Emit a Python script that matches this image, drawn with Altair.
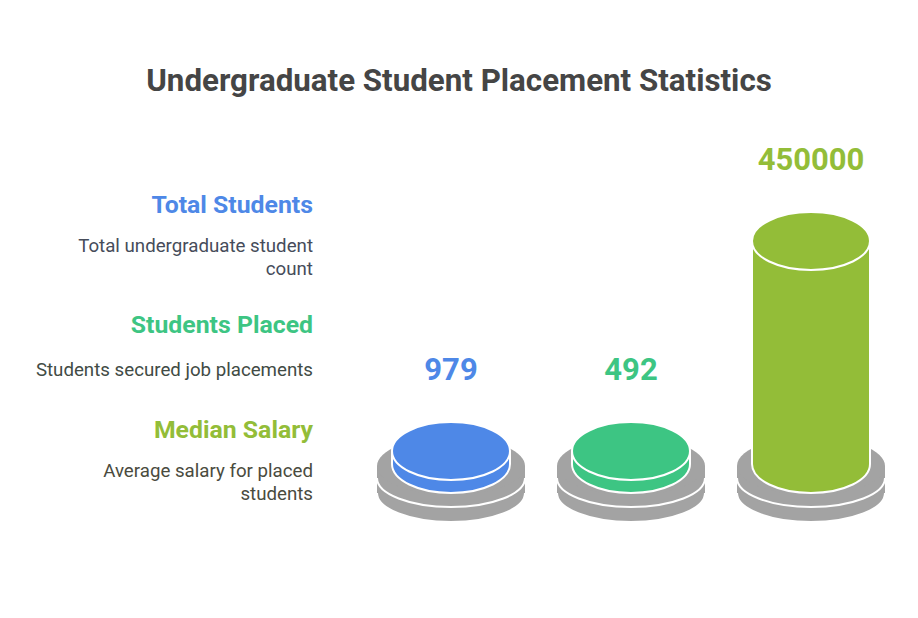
import altair as alt
import pandas as pd

# ---------------- data ----------------
title = "Undergraduate Student Placement Statistics"
categories = ["Total Students", "Students Placed", "Median Salary"]
descriptions = [
    ["Total undergraduate student", "count"],
    ["Students secured job placements"],
    ["Average salary for placed", "students"],
]
values = [979, 492, 450000]
value_labels = ["979", "492", "450000"]
colors = ["#4e88e7", "#3dc583", "#93bd38"]
desc_colors = ["#464c5a", "#414b45", "#4a4b3e"]

# ---------------- layout ----------------
W, H = 902, 602
FONT = "Roboto"
GRAY = "#a3a3a3"
RX_C, RY_C = 59, 29      # coloured cylinder ellipse radii (px)
RX_G, RY_G = 74, 29      # gray base ellipse radii (px)

vmax = max(values)
min_disp = vmax * 13 / 223   # minimum visible cylinder body

df = pd.DataFrame({
    "idx": list(range(len(values))),
    "value": values,
    "disp": [max(v, min_disp) for v in values],
    "zero": [0] * len(values),
    "label": value_labels,
    "color": colors,
})

xs = alt.Scale(domain=[0, len(values) - 1], range=[443, 803])
ys = alt.Scale(domain=[0, vmax], range=[456, 233], nice=False, zero=False)
X = alt.X("idx:Q", scale=xs, axis=None)


def ellipse_path(ratio):
    k = 0.5523
    r = ratio
    return (f"M-1,0 C-1,{-k*r:.4f} {-k:.4f},{-r:.4f} 0,{-r:.4f} "
            f"C{k:.4f},{-r:.4f} 1,{-k*r:.4f} 1,0 "
            f"C1,{k*r:.4f} {k:.4f},{r:.4f} 0,{r:.4f} "
            f"C{-k:.4f},{r:.4f} -1,{k*r:.4f} -1,0 Z")


PATH_C = ellipse_path(RY_C / RX_C)
PATH_G = ellipse_path(RY_G / RX_G)
SIZE_C = (2 * RX_C) ** 2
SIZE_G = (2 * RX_G) ** 2

base = alt.Chart(df)


def gray_ellipse(off, stroke):
    kw = dict(shape=PATH_G, size=SIZE_G, filled=True, fill=GRAY, opacity=1,
              fillOpacity=1, yOffset=off)
    if stroke:
        kw.update(stroke="white", strokeWidth=2, strokeOpacity=1)
    else:
        kw.update(strokeWidth=0)
    return base.mark_point(**kw).encode(x=X, y=alt.Y("zero:Q", scale=ys, axis=None))


def gray_body(top, bottom):
    return base.mark_rule(color=GRAY, strokeWidth=2 * RX_G, yOffset=top,
                          y2Offset=bottom).encode(
        x=X, y=alt.Y("zero:Q", scale=ys, axis=None), y2="zero:Q")


layers = []
# lower gray disc
layers += [gray_ellipse(29, True), gray_body(17, 29), gray_ellipse(17, False)]
# upper gray disc
layers += [gray_ellipse(14, True), gray_body(2, 14), gray_ellipse(2, False)]

col_fill = alt.Fill("color:N", scale=None, legend=None)
col = alt.Color("color:N", scale=None, legend=None)

# coloured cylinder
layers.append(base.mark_point(shape=PATH_C, size=SIZE_C, filled=True, opacity=1,
                              stroke="white", strokeWidth=2, strokeOpacity=1).encode(
    x=X, y=alt.Y("zero:Q", scale=ys, axis=None), fill=col_fill))
layers.append(base.mark_rule(strokeWidth=2 * RX_C).encode(
    x=X, y=alt.Y("zero:Q", scale=ys, axis=None), y2="disp:Q", color=col))
for off in (-RX_C, RX_C):
    layers.append(base.mark_rule(color="white", strokeWidth=2, xOffset=off,
                                 x2Offset=off).encode(
        x=X, y=alt.Y("zero:Q", scale=ys, axis=None), y2="disp:Q"))
layers.append(base.mark_point(shape=PATH_C, size=SIZE_C, filled=True, opacity=1,
                              stroke="white", strokeWidth=2, strokeOpacity=1).encode(
    x=X, y=alt.Y("disp:Q", scale=ys, axis=None), fill=col_fill))

# value labels
layers.append(base.mark_text(font=FONT, fontSize=31, fontWeight="bold",
                             align="center", baseline="alphabetic", yOffset=-71).encode(
    x=X, y=alt.Y("disp:Q", scale=ys, axis=None), text="label:N", color=col))

# title
layers.append(alt.Chart(pd.DataFrame({"t": [title]})).mark_text(
    font=FONT, fontSize=31.3, fontWeight="bold", align="center", baseline="alphabetic",
    color="#454545").encode(x=alt.value(451), y=alt.value(83), text="t:N"))

# left-hand legend texts
head_y = [205, 325, 430]
desc_y = [244, 368, 469]
for i, cat in enumerate(categories):
    layers.append(alt.Chart(pd.DataFrame({"t": [cat]})).mark_text(
        font=FONT, fontSize=24.8, fontWeight="bold", align="right",
        baseline="alphabetic", color=colors[i]).encode(
        x=alt.value(305), y=alt.value(head_y[i]), text="t:N"))
    layers.append(alt.Chart(pd.DataFrame({"t": ["\n".join(descriptions[i])]})).mark_text(
        font=FONT, fontSize=18.7, align="right", baseline="alphabetic",
        lineBreak="\n", lineHeight=23, color=desc_colors[i]).encode(
        x=alt.value(305), y=alt.value(desc_y[i]), text="t:N"))

chart = alt.layer(*layers).properties(
    width=W, height=H, autosize=alt.AutoSizeParams(type="none"), padding=0,
    background="white",
).configure_view(stroke=None)

chart.save("out.html", embed_options={"renderer": "svg", "actions": False})
